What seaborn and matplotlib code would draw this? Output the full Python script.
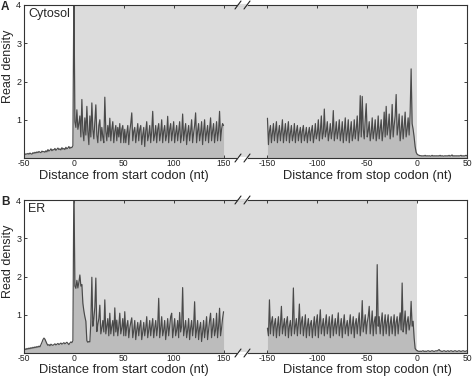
import numpy as np
import pandas as pd
import matplotlib
matplotlib.use("Agg")
import matplotlib.pyplot as plt
import matplotlib.transforms as mtrans
import seaborn as sns

# ---------------- data (read density per nucleotide) ----------------
# Panel A (Cytosol): start-codon section, nt -50 .. 150
cyto_start_pre = [0.10,0.09,0.11,0.10,0.12,0.10,0.13,0.11,0.10,0.14,
                  0.12,0.15,0.13,0.16,0.14,0.17,0.15,0.14,0.18,0.16,
                  0.17,0.15,0.19,0.16,0.22,0.18,0.20,0.24,0.19,0.22,
                  0.21,0.25,0.20,0.23,0.26,0.22,0.24,0.21,0.27,0.23,
                  0.25,0.22,0.28,0.24,0.26,0.30,0.25,0.28,0.27,0.32]
cyto_start_cds = [4.60,
                  0.95,0.80,1.26,0.75,0.90,1.10,0.55,1.53,0.70,0.45,
                  1.05,0.60,1.35,0.70,0.35,1.10,0.55,1.44,0.75,0.50,
                  0.95,1.39,0.60,0.40,0.85,1.00,0.45,0.80,0.55,0.40,
                  1.59,0.70,0.45,0.85,0.55,1.04,0.45,0.75,0.95,0.40,
                  0.70,0.85,0.45,0.80,0.55,0.90,0.40,0.75,0.85,0.40,
                  0.75,0.40,0.65,0.85,0.35,0.70,0.90,1.18,0.45,0.70,
                  0.80,0.40,0.65,0.90,0.45,0.75,0.85,0.35,0.60,0.80,
                  0.30,0.70,0.95,0.45,0.60,0.85,0.40,0.70,1.22,0.45,
                  0.60,0.85,0.40,0.75,0.90,0.45,0.65,1.00,0.40,0.70,
                  0.85,0.45,0.60,1.09,0.40,0.75,0.90,0.45,0.70,0.95,
                  0.40,0.65,0.85,0.45,0.70,0.95,0.40,0.60,1.15,0.45,
                  0.70,0.90,0.35,0.65,0.85,0.45,0.70,1.00,0.40,0.65,
                  0.85,1.18,0.40,0.70,0.90,0.45,0.65,0.95,0.35,0.70,
                  1.00,0.45,0.65,0.85,0.40,0.75,1.05,0.45,0.70,0.90,
                  0.40,0.65,0.95,0.45,0.70,1.22,0.45,0.75,0.90,0.85]
# Panel A (Cytosol): stop-codon section, nt -150 .. 50
cyto_stop = [1.04,0.35,0.70,0.85,0.40,0.65,0.90,0.45,0.70,0.95,
             0.40,0.65,0.85,0.45,0.70,1.00,0.40,0.65,0.90,0.45,
             0.70,0.95,0.40,0.65,0.85,0.45,0.60,0.90,0.40,0.70,
             0.85,0.45,0.65,0.80,0.40,0.70,0.85,0.45,0.60,0.80,
             0.40,0.65,0.80,0.45,0.70,0.85,0.40,0.60,0.90,0.50,
             0.65,1.00,0.45,0.70,1.10,0.50,0.65,1.28,0.55,0.70,
             0.95,0.45,0.65,0.90,0.50,0.70,1.24,0.45,0.65,0.95,
             0.50,0.70,1.00,0.45,0.65,0.95,0.40,0.70,1.05,0.45,
             0.65,1.00,0.40,0.70,0.95,0.45,0.60,1.00,0.50,0.75,
             1.10,0.45,0.70,1.63,0.55,1.61,0.75,0.50,1.00,1.42,
             0.55,0.70,0.95,0.45,0.65,1.05,0.50,0.70,1.00,0.45,
             0.65,1.10,0.50,0.75,1.00,0.45,0.70,1.20,0.55,1.35,
             0.60,0.80,1.15,0.50,0.75,1.40,0.55,0.85,1.10,1.66,
             0.60,0.80,1.15,0.45,0.70,1.10,0.50,0.80,1.20,0.55,
             0.75,1.05,0.60,1.18,2.33,0.90,0.75,0.55,0.30,0.15,
             0.10,0.08,0.07,0.06,0.06,0.05,0.06,0.05,0.07,0.05,
             0.06,0.05,0.06,0.05,0.05,0.07,0.05,0.06,0.05,0.06,
             0.05,0.06,0.05,0.07,0.05,0.06,0.05,0.05,0.06,0.05,
             0.06,0.05,0.07,0.05,0.06,0.08,0.05,0.06,0.05,0.06,
             0.05,0.06,0.05,0.06,0.07,0.05,0.06,0.05,0.06,0.07,0.06]

# Panel B (ER): start-codon section, nt -50 .. 150
er_start_pre = [0.10,0.11,0.09,0.12,0.10,0.13,0.11,0.14,0.12,0.15,
                0.13,0.16,0.14,0.17,0.15,0.18,0.16,0.22,0.28,0.35,
                0.39,0.36,0.30,0.24,0.20,0.22,0.19,0.23,0.21,0.20,
                0.22,0.24,0.21,0.23,0.25,0.22,0.24,0.26,0.23,0.25,
                0.27,0.24,0.26,0.28,0.25,0.22,0.26,0.29,0.27,0.32]
er_start_cds = [4.60,
                1.75,1.69,1.90,1.70,1.85,2.04,1.75,1.79,1.30,1.10,
                0.95,0.83,0.32,0.28,0.30,0.29,0.80,1.98,0.70,0.90,
                1.20,1.96,0.56,0.75,0.90,1.25,0.50,0.65,0.85,0.55,
                1.39,0.50,0.70,0.90,0.45,1.04,0.50,0.70,0.85,0.45,
                1.18,0.55,0.86,0.45,0.70,1.04,0.50,0.65,0.90,0.45,
                1.08,0.45,0.70,0.85,0.40,0.65,0.80,0.92,0.40,0.60,
                0.85,0.35,0.60,0.80,0.45,0.70,0.85,0.35,0.55,0.80,
                0.45,0.65,0.95,0.40,0.60,0.85,0.45,0.70,0.90,0.40,
                0.65,0.85,0.45,0.70,1.43,0.40,0.65,0.95,0.45,0.60,
                0.85,0.35,0.60,0.90,0.45,0.70,0.95,1.04,0.40,0.65,
                0.90,0.45,0.60,0.85,0.40,1.06,0.55,0.70,1.71,0.45,
                0.65,0.85,0.40,0.60,0.90,0.35,0.65,0.85,0.45,0.70,
                1.34,0.40,0.60,0.85,0.35,0.65,0.80,0.30,0.55,0.85,
                0.40,0.65,0.95,0.35,0.60,0.85,1.04,0.40,0.65,0.90,
                0.45,0.60,1.04,0.40,0.70,1.17,0.45,0.65,0.90,1.08]
# Panel B (ER): stop-codon section, nt -150 .. 50
er_stop = [0.65,0.45,1.39,0.50,0.80,0.95,0.45,0.75,0.90,0.40,
           0.70,0.95,0.45,0.75,1.22,0.50,0.70,0.90,0.45,0.80,
           0.95,0.40,0.70,0.85,0.45,0.75,1.70,0.50,0.70,0.90,
           0.45,0.75,1.28,0.50,0.80,0.95,0.45,0.70,1.00,0.40,
           0.70,0.90,0.45,0.75,0.85,0.40,0.70,0.95,0.45,0.80,
           1.00,0.40,0.75,1.13,0.50,0.70,0.90,0.45,0.75,1.00,
           0.50,0.70,0.95,0.40,0.75,1.00,0.45,0.70,0.90,0.50,
           0.75,1.05,0.45,0.70,0.90,0.40,0.75,1.00,0.50,0.70,
           0.85,0.45,0.75,1.00,0.50,0.70,0.95,0.40,0.75,0.90,
           0.50,0.80,1.05,0.45,0.70,1.37,0.55,0.75,1.00,0.50,
           0.80,0.95,1.22,0.50,0.75,1.10,0.45,0.80,0.95,0.50,
           2.31,0.70,0.95,0.50,0.80,1.05,0.45,0.75,1.00,0.50,
           0.80,1.00,0.45,0.75,0.95,0.50,0.75,1.00,0.45,0.80,
           0.95,0.50,0.80,1.05,0.60,1.83,0.55,0.75,1.10,0.50,
           0.80,0.95,0.60,0.75,1.35,0.70,0.83,0.40,0.12,0.08,
           0.06,0.05,0.04,0.05,0.04,0.05,0.06,0.04,0.05,0.04,
           0.05,0.06,0.05,0.04,0.05,0.06,0.05,0.04,0.05,0.06,
           0.05,0.07,0.09,0.06,0.05,0.04,0.05,0.06,0.05,0.04,
           0.05,0.06,0.04,0.05,0.06,0.05,0.04,0.05,0.06,0.05,
           0.04,0.05,0.06,0.05,0.04,0.05,0.06,0.05,0.04,0.05,0.06]

start_ticks = [-50, 0, 50, 100, 150]
stop_ticks = [-150, -100, -50, 0, 50]
y_ticks = [1, 2, 3, 4]
panel_names = ["Cytosol", "ER"]
panel_letters = ["A", "B"]
start_label = "Distance from start codon (nt)"
stop_label = "Distance from stop codon (nt)"
ylab = "Read density"

# ---------------- layout ----------------
OFFSET = 344          # stop-codon section is shifted on the shared x-axis
XMIN, XMAX = -50, 50 + OFFSET
BG = "#dcdcdc"
FILL = "#bcbcbc"
LINE = "#4a4a4a"

sns.set_style("ticks")
plt.rcParams["font.family"] = ["Liberation Sans", "DejaVu Sans"]

fig = plt.figure(figsize=(4.74, 3.77), dpi=100)
W, H = 474, 377
ax_px = [(24, 5, 467, 158), (24, 200, 467, 353)]

panels = [
    (cyto_start_pre + cyto_start_cds, cyto_stop),
    (er_start_pre + er_start_cds, er_stop),
]

for i, (start_vals, stop_vals) in enumerate(panels):
    l, t, r, b = ax_px[i]
    ax = fig.add_axes([l / W, 1 - b / H, (r - l) / W, (b - t) / H])
    x_start = np.arange(-50, -50 + len(start_vals))
    x_stop = np.arange(50 - len(stop_vals) + 1, 51) + OFFSET
    df = pd.concat([
        pd.DataFrame({"x": x_start, "y": start_vals, "seg": "start"}),
        pd.DataFrame({"x": x_stop, "y": stop_vals, "seg": "stop"}),
    ])
    ax.axvspan(0, OFFSET, color=BG, lw=0, zorder=0)
    for seg, sub in df.groupby("seg"):
        ax.fill_between(sub["x"], 0, sub["y"], color=FILL, lw=0, zorder=1)
    sns.lineplot(data=df, x="x", y="y", units="seg", estimator=None,
                 color=LINE, lw=0.85, ax=ax, zorder=2, legend=False)
    ax.set_xlim(XMIN, XMAX)
    ax.set_ylim(0, 4)
    ax.set_yticks(y_ticks)
    ax.set_yticklabels([str(v) for v in y_ticks], fontsize=6.5)
    xt = start_ticks + [v + OFFSET for v in stop_ticks]
    ax.set_xticks(xt)
    ax.set_xticklabels([str(v) for v in start_ticks + stop_ticks], fontsize=6.2)
    ax.tick_params(axis="both", direction="in", length=2.5, width=0.6,
                   top=True, right=True, colors="#222222")
    ax.tick_params(axis="x", pad=1.0)
    ax.tick_params(axis="y", pad=2.0)
    ax.set_xlabel("")
    ax.set_ylabel("")
    for sp in ax.spines.values():
        sp.set_linewidth(0.8)
        sp.set_color("#333333")
        sp.set_visible(True)

    trans = mtrans.blended_transform_factory(ax.transData, ax.transAxes)
    hpx = b - t
    ax.text(50, -17.5 / hpx, start_label, transform=trans, ha="center",
            va="center", fontsize=9.3)
    ax.text(-50 + OFFSET, -17.5 / hpx, stop_label, transform=trans,
            ha="center", va="center", fontsize=9.3)
    ax.text(-16 / 443, 0.60, ylab, transform=ax.transAxes, rotation=90,
            ha="center", va="center", fontsize=9.0)
    ax.text(4 / 443, 1 - 3 / hpx, panel_names[i], transform=ax.transAxes,
            ha="left", va="top", fontsize=9.0)
    fig.text(1 / W, 1 - (t - 4) / H, panel_letters[i], ha="left", va="top",
             fontsize=8.5, fontweight="bold")

    # axis-break marks
    x1, x2 = (238 - 24) / 443, (247 - 24) / 443
    for yy in (0, 1):
        ax.plot([x1, x2], [yy, yy], transform=ax.transAxes,
                color=BG if yy == 1 else "white",
                lw=1.6, clip_on=False, zorder=5)
        for xx in (x1, x2):
            ax.plot([xx - 3 / 443, xx + 3 / 443], [yy - 4 / hpx, yy + 4 / hpx],
                    transform=ax.transAxes, color="#222222", lw=0.8,
                    clip_on=False, zorder=6)

fig.savefig("out.png", dpi=100)
